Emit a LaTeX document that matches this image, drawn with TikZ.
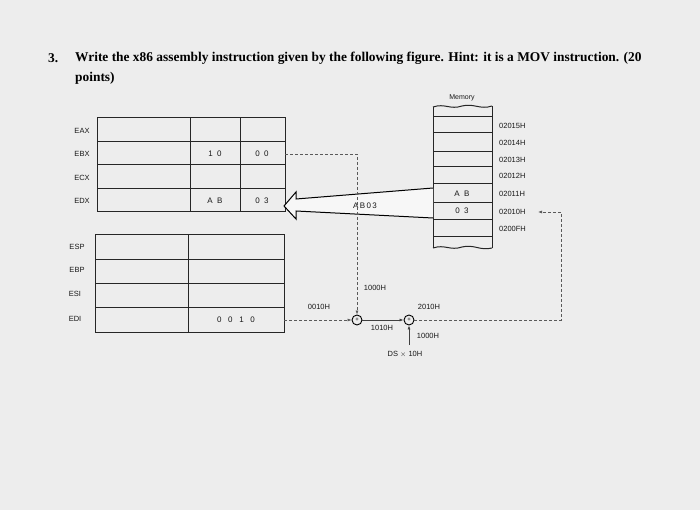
\documentclass[tikz,border=0pt]{standalone}
\usepackage{fontspec}
\setmainfont{Liberation Serif}
\newfontfamily\lab{Liberation Sans}
\usetikzlibrary{arrows.meta}
\begin{document}
\begin{tikzpicture}[x=1pt,y=-1pt,
  reg/.style={draw=black!85,line width=1pt},
  lbl/.style={font=\lab\fontsize{7.5}{8}\selectfont,text=black!90,inner sep=0pt},
  val/.style={font=\lab\fontsize{8}{8}\selectfont,text=black!90,inner sep=0pt},
  wire/.style={draw=black!65,line width=0.6pt,densely dashed},
  arr/.style={-{Latex[length=4pt,width=3pt]}}]
\fill[black!7] (0,0) rectangle (700,510);
\useasboundingbox (0,0) rectangle (700,510);
% title
\node[anchor=west,font=\bfseries\fontsize{13.4}{15}\selectfont,inner sep=0pt] (num) at (48,58) {3.};
\node[anchor=west,font=\bfseries\fontsize{13.4}{15}\selectfont,inner sep=0pt] (t1) at (75,58) {Write the x86 assembly instruction given by the following figure. Hint: it is a MOV instruction. (20};
\node[anchor=west,font=\bfseries\fontsize{13.4}{15}\selectfont,inner sep=0pt] (t2) at (75,78) {points)};
% register box 1
\draw[reg] (97,118) rectangle (285,212);
\foreach \y in {142,165,189} \draw[reg] (97,\y) -- (285,\y);
\draw[reg] (190,118) -- (190,212);
\draw[reg] (240,118) -- (240,212);
\node[lbl] (eax) at (82,131) {EAX};
\node[lbl] (ebx) at (82,154) {EBX};
\node[lbl] (ecx) at (82,178) {ECX};
\node[lbl] (edx) at (82,201) {EDX};
\node[val] (bh) at (215,154) {1\ \ 0};
\node[val] (bl) at (262,154) {0\ \ 0};
\node[val] (dh) at (215,201) {A\ \ B};
\node[val] (dl) at (262,201) {0\ \ 3};
\coordinate (ebxr) at (285,154);
% register box 2
\draw[reg] (95,235) rectangle (284,332);
\foreach \y in {259,283,307} \draw[reg] (95,\y) -- (284,\y);
\draw[reg] (188,235) -- (188,332);
\node[lbl] (esp) at (77,247) {ESP};
\node[lbl] (ebp) at (77,270) {EBP};
\node[lbl] (esi) at (75,294) {ESI};
\node[lbl] (edi) at (75,319) {EDI};
\node[val] (div) at (236,320) {0\ \ \ 0\ \ \ 1\ \ \ 0};
\coordinate (edir) at (284,320);
% memory
\node[lbl,font=\lab\fontsize{7}{7}\selectfont] (mem) at (462,98) {Memory};
\draw[reg] (433,107) .. controls (445,103) and (450,110) .. (462,106) .. controls (474,103) and (480,110) .. (492,106);
\draw[reg] (433,248) .. controls (445,244) and (450,251) .. (462,247) .. controls (474,244) and (480,251) .. (492,248);
\draw[reg] (433,107) -- (433,248);
\draw[reg] (492,106) -- (492,248);
\foreach \y in {117,133,152,167,184,203,220,237} \draw[reg] (433,\y) -- (492,\y);
\node[val] (mab) at (462,194) {A\ \ B};
\node[val] (m03) at (462,211) {0\ \ 3};
\foreach \t/\y in {02015H/126,02014H/143,02013H/160,02012H/176,02011H/194,02010H/212,0200FH/229}
  \node[lbl,anchor=west] (a\t) at (499,\y) {\t};
% big arrow
\draw[line width=1pt,fill=black!3] (433,188) -- (296,199) -- (296,192) -- (284,206) -- (296,219) -- (296,211) -- (433,218);
\node[val] (ab03) at (365,206) {A\,B\,0\,3};
% adders
\node[draw,circle,line width=0.9pt,minimum size=10pt,inner sep=0pt,font=\lab\fontsize{6}{6}\selectfont] (add1) at (357,320) {+};
\node[draw,circle,line width=0.9pt,minimum size=10pt,inner sep=0pt,font=\lab\fontsize{6}{6}\selectfont] (add2) at (409,320) {+};
\coordinate (c1) at (357,154);
\draw[wire,arr] (ebxr) -- (c1) -- (add1);
\draw[wire,arr] (edir) -- (add1);
\draw[black!75,line width=0.7pt,arr] (add1) -- (add2);
\coordinate (ds) at (409,345);
\draw[black!75,line width=0.7pt,arr] (ds) -- (add2);
\coordinate (c2) at (561,320);
\coordinate (c3) at (561,212);
\coordinate (c4) at (538,212);
\draw[wire] (add2) -- (c2) -- (c3);
\draw[wire,arr] (c3) -- (c4);
\node[lbl] (l1000a) at (375,288) {1000H};
\node[lbl] (l0010) at (319,307) {0010H};
\node[lbl] (l1010) at (382,328) {1010H};
\node[lbl] (l2010) at (429,307) {2010H};
\node[lbl] (l1000b) at (428,336) {1000H};
\node[lbl] (lds) at (405,354) {DS $\times$ 10H};
\end{tikzpicture}
\end{document}
